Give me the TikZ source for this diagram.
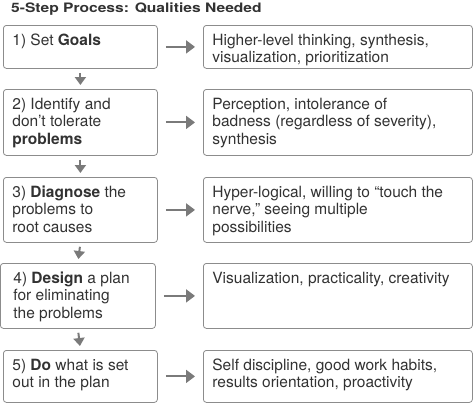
\documentclass[tikz,border=0pt]{standalone}
\usepackage{fontspec}
\setmainfont{TeX Gyre Heros}
\usepackage{tikz}
\usetikzlibrary{arrows.meta, positioning}
\definecolor{textGray}{RGB}{50, 50, 50}
\definecolor{frameGray}{RGB}{140, 140, 140}
\definecolor{arrowGray}{RGB}{122, 122, 122}
\newcommand{\cellbody}[3]{\parbox[c][#1][t]{#2}{\raggedright\rule{0pt}{20pt}#3}}
\tikzset{
    stepbox/.style={draw=frameGray, line width=0.8pt, rounded corners=3pt,
        anchor=north west, inner xsep=9pt, inner ysep=0pt, text=textGray,
        font=\fontsize{15.5}{17.5}\selectfont},
    flowArrow/.style={arrowGray, line width=2pt,
        -{Triangle[length=9pt, width=13pt]}, shorten <=8pt, shorten >=8pt},
    nextArrow/.style={arrowGray, line width=2pt,
        -{Triangle[length=8pt, width=11pt]}, shorten <=4pt, shorten >=4pt},
}

\begin{document}
\begin{tikzpicture}[x=1pt, y=-1pt]
    \useasboundingbox (0,0) rectangle (474,405);

    % TITLE
    \node[anchor=base west, inner sep=0pt, text=textGray,
          font=\fontsize{13}{15}\selectfont\bfseries] (title) at (11,12.7)
          {\scalebox{1.2}[1]{5-Step Process: Qualities Needed}};

    % LEFT COLUMN: STEPS
    \node[stepbox] (s1) at (3,25) {\cellbody{43pt}{136pt}{1) Set \textbf{Goals}}};
    \node[stepbox] (s2) at (3,89) {\cellbody{66pt}{136pt}{2) Identify and\\ don't tolerate\\ \textbf{problems}}};
    \node[stepbox] (s3) at (3,177) {\cellbody{65pt}{136pt}{3) \textbf{Diagnose} the\\ problems to\\ root causes}};
    \node[stepbox, inner xsep=13pt] (s4) at (0,263) {\cellbody{65pt}{129pt}{4) \textbf{Design} a plan\\ for eliminating\\ the problems}};
    \node[stepbox] (s5) at (3,350) {\cellbody{52pt}{136pt}{5) \textbf{Do} what is set\\ out in the plan}};

    % RIGHT COLUMN: QUALITIES
    \node[stepbox] (q1) at (203,25) {\cellbody{43pt}{251pt}{Higher-level thinking, synthesis,\\ visualization, prioritization}};
    \node[stepbox] (q2) at (203,89) {\cellbody{66pt}{251pt}{Perception, intolerance of\\ badness (regardless of severity),\\ synthesis}};
    \node[stepbox] (q3) at (203,177) {\cellbody{65pt}{251pt}{Hyper-logical, willing to ``touch the\\ nerve,'' seeing multiple\\ possibilities}};
    \node[stepbox] (q4) at (203,263) {\cellbody{65pt}{251pt}{Visualization, practicality, creativity}};
    \node[stepbox] (q5) at (203,350) {\cellbody{52pt}{251pt}{Self discipline, good work habits,\\ results orientation, proactivity}};

    % CONNECTORS
    \foreach \i in {1,...,5}
        \draw[flowArrow] (s\i.east) -- (q\i.west);
    \foreach \i/\j in {1/2, 2/3, 3/4, 4/5}
        \draw[nextArrow] (s\i.south) -- (s\j.north);

\end{tikzpicture}
\end{document}
